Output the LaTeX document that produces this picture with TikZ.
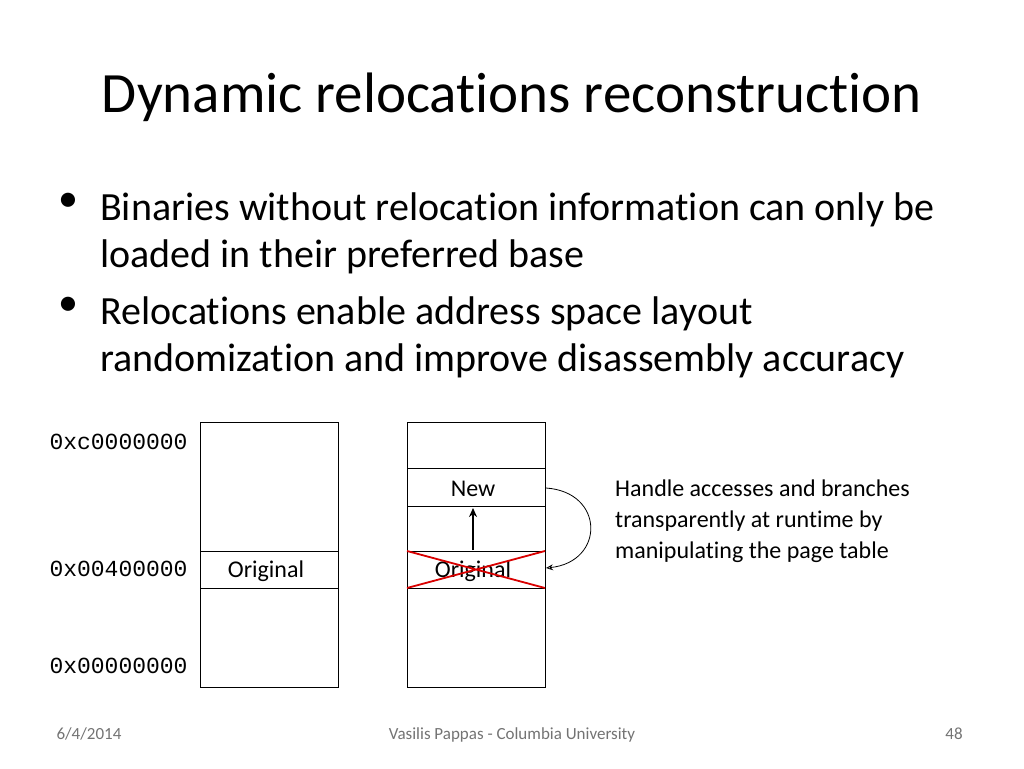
\documentclass[tikz,border=0pt]{standalone}
\usepackage{fontspec}
\setmainfont{Carlito}[RawFeature=-liga]
\setmonofont{Liberation Mono}
\usetikzlibrary{arrows.meta}
\begin{document}
\begin{tikzpicture}[x=1pt,y=-1pt,
  box/.style={draw=black,line width=0.8pt},
  lbl/.style={font=\fontsize{24}{28}\selectfont},
  bul/.style={anchor=north west,text width=860pt,align=flush left,font=\fontsize{40}{47}\selectfont,inner sep=0pt},
  addr/.style={font=\ttfamily\fontsize{23}{26}\selectfont,anchor=west},
  foot/.style={font=\fontsize{17}{20}\selectfont,text=black!55,anchor=base}]
\useasboundingbox (0,0) rectangle (1024,768);
\node[font=\fontsize{57}{64}\selectfont] (title) at (512,97) {Dynamic relocations reconstruction};
\node[bul,text width=30pt] (d1) at (58,193) {•};
\node[bul] (b1) at (100,193) {Binaries without relocation information can only be loaded in their preferred base};
\node[bul,text width=30pt] (d2) at (58,297) {•};
\node[bul] (b2) at (100,297) {Relocations enable address space layout randomization and improve disassembly accuracy};
% left box
\draw[box] (200,422) rectangle (338,687);
\draw[box] (200,551) -- (338,551);
\draw[box] (200,588) -- (338,588);
\node[lbl] (orig1) at (266,571) {Original};
% right box
\draw[box] (407,422) rectangle (545,687);
\foreach \yy in {468,506,551,588} \draw[box] (407,\yy) -- (545,\yy);
\node[lbl] (new) at (473,489) {New};
\node[lbl] (orig2) at (473,571) {Original};
\draw[red!85!black,line width=1.8pt] (407,551) -- (545,588) (407,588) -- (545,551);
\coordinate (a1) at (473,550);
\coordinate (a2) at (473,508);
\draw[line width=2pt,-{Stealth[length=9pt,width=8pt]}] (a1) -- (a2);
\coordinate (c1) at (546,488);
\coordinate (c2) at (546,568);
\draw[line width=0.8pt,-{Stealth[length=7pt,width=6pt,open]}] (c1) .. controls (605,492) and (605,562) .. (c2);
\node[anchor=north west,align=left,inner sep=0pt,font=\fontsize{24}{31}\selectfont] (note) at (615,480)
 {Handle accesses and branches\\transparently at runtime by\\manipulating the page table};
\node[addr] (ad1) at (46,442) {0xc0000000};
\node[addr] (ad2) at (46,569) {0x00400000};
\node[addr] (ad3) at (46,666) {0x00000000};
\node[foot,anchor=base west] (f1) at (53,739) {6/4/2014};
\node[foot] (f2) at (512,739) {Vasilis Pappas - Columbia University};
\node[foot] (f3) at (954,739) {48};
\end{tikzpicture}
\end{document}
